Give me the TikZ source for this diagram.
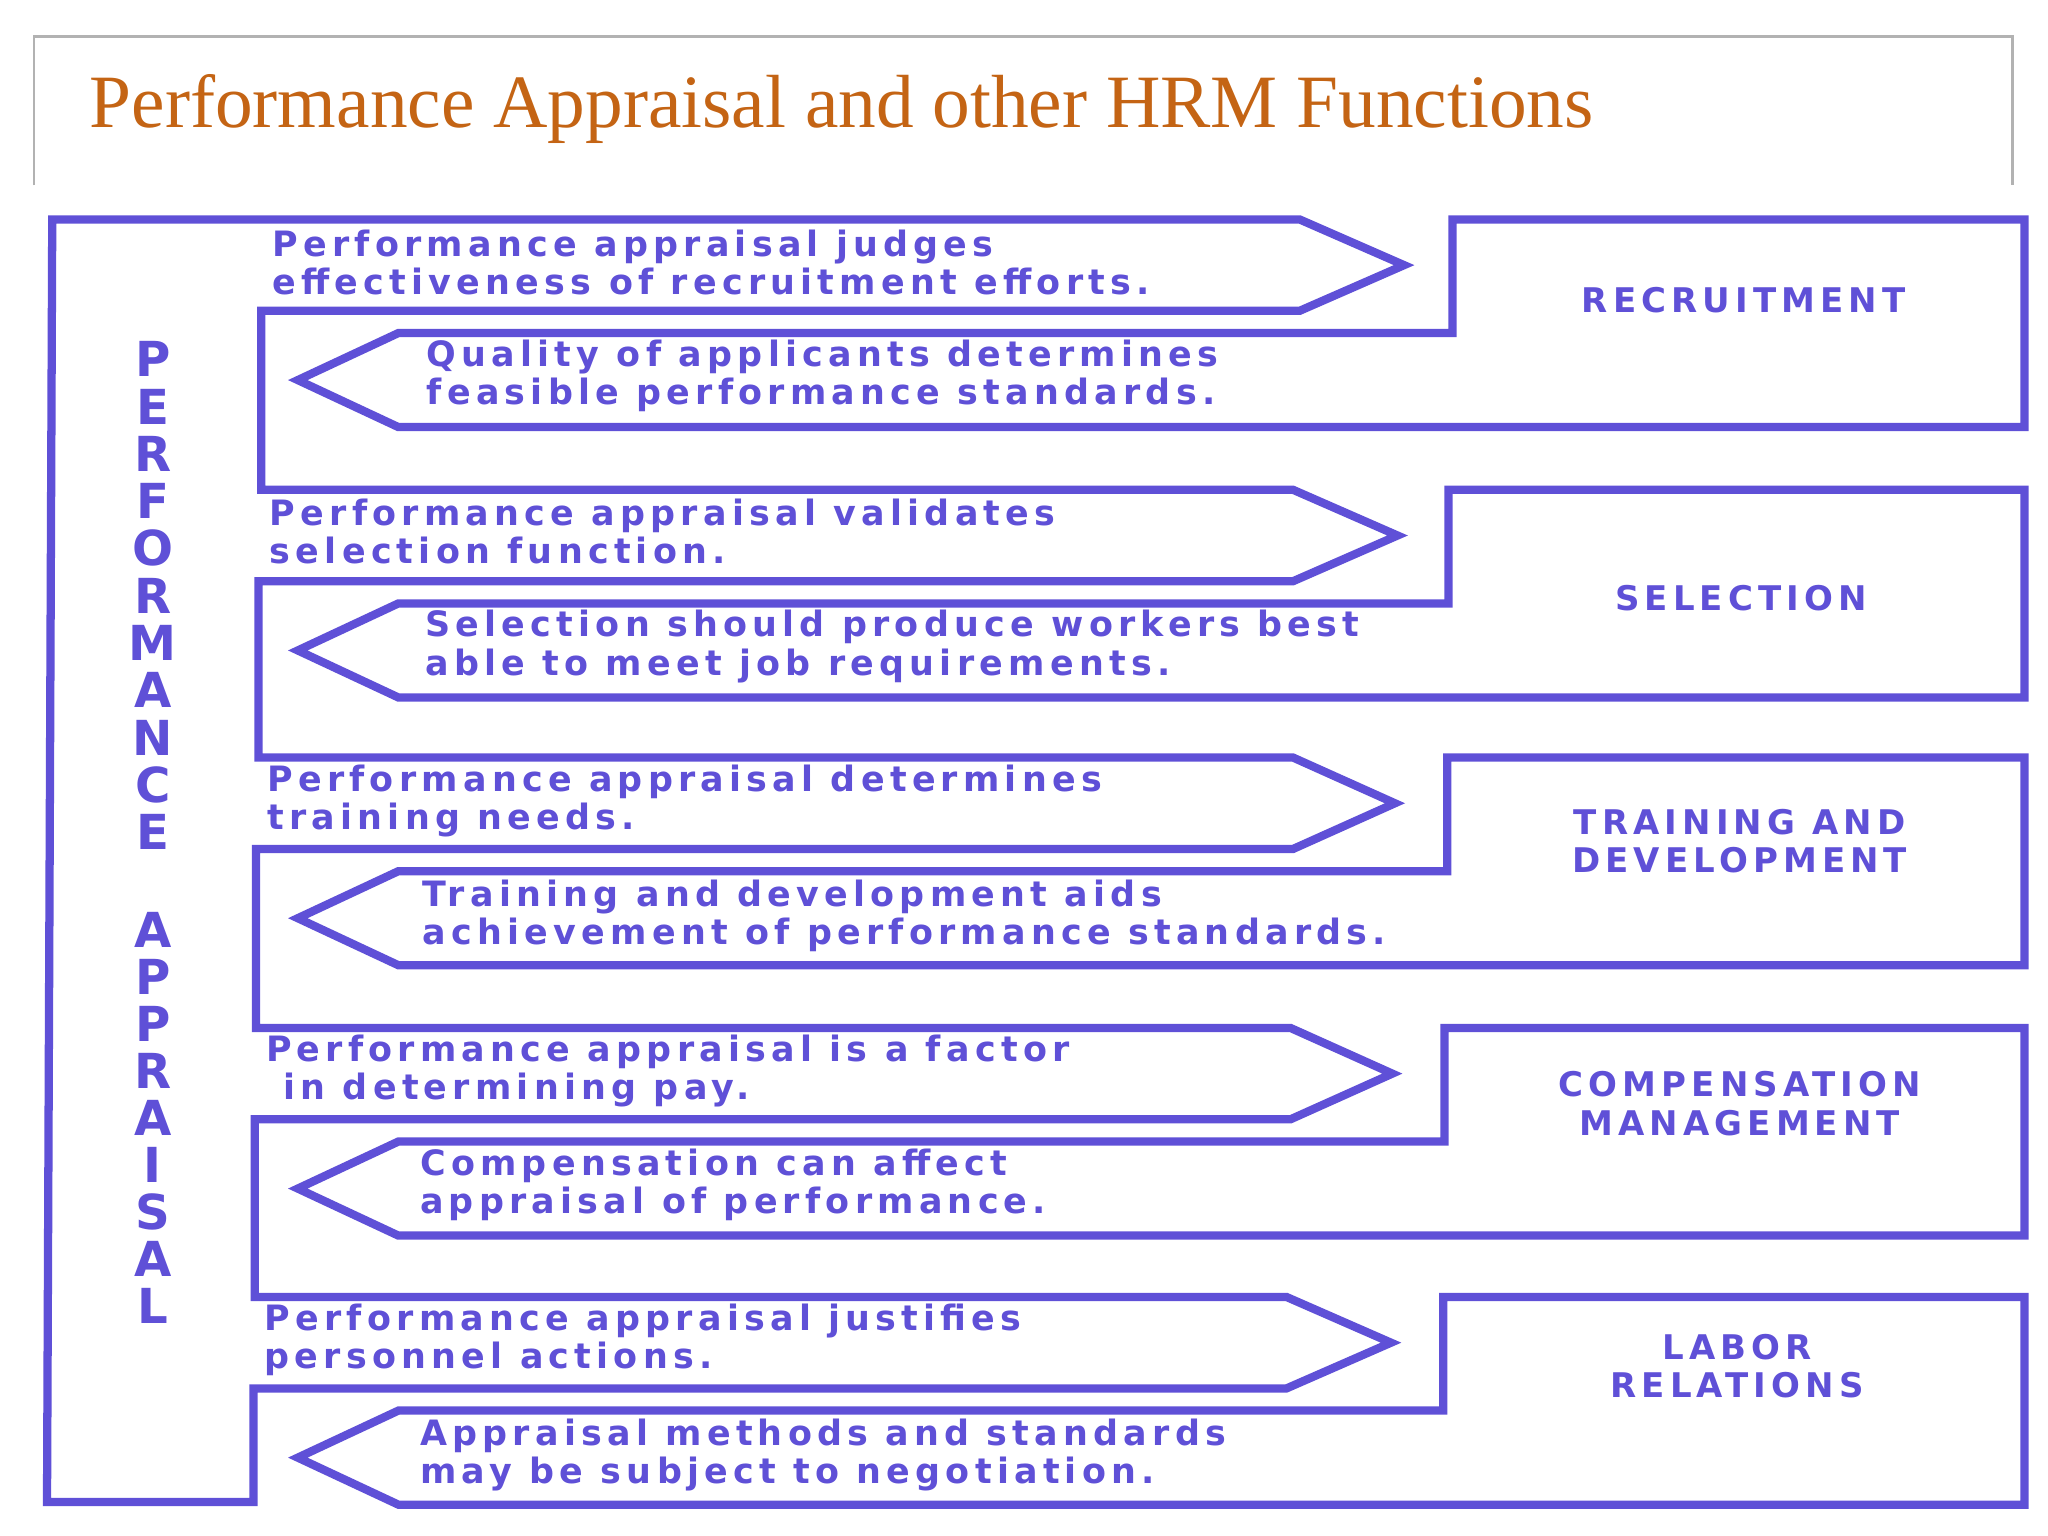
\documentclass[tikz,border=0pt]{standalone}
\usepackage{fontspec}
\setmainfont{Liberation Serif}
\newfontfamily\lab[LetterSpace=15]{DejaVu Sans Bold}
\definecolor{pu}{RGB}{95,80,215}
\definecolor{ttl}{RGB}{196,100,20}
\begin{document}
\begin{tikzpicture}[x=0.01cm,y=-0.01cm,
  ln/.style={draw=pu,line width=1.8pt,line join=miter},
  tx/.style={text=pu,font=\lab\fontsize{7.6}{8.3}\selectfont,anchor=west,align=left,inner sep=0},
  rt/.style={text=pu,font=\lab\fontsize{7.4}{8.3}\selectfont,align=center,inner sep=0},
  vl/.style={text=pu,font=\fontspec{DejaVu Sans Bold}\fontsize{10.5}{11}\selectfont,inner sep=0}]
\useasboundingbox (0,0) rectangle (1568,1176);
\draw[gray!60,line width=0.6pt] (26,142) -- (26,28) -- (1541,28) -- (1541,142);
\node[text=ttl,font=\fontsize{16.4}{19}\selectfont,anchor=base west,inner sep=0] (title) at (68,98) {Performance Appraisal and other HRM Functions};
% comb
\draw[ln] (40,168) -- (995,168) -- (1075,203) -- (995,238) -- (200,238) -- (200,375)
 -- (990,375) -- (1070,410) -- (990,445) -- (198,445) -- (198,580)
 -- (990,580) -- (1068,615) -- (990,650) -- (196,650) -- (196,787)
 -- (988,787) -- (1066,822) -- (988,857) -- (195,857) -- (195,993)
 -- (985,993) -- (1065,1028) -- (985,1063) -- (194,1063) -- (194,1150) -- (36,1150) -- cycle;
\foreach \t/\bx in {168/1112,375/1109,580/1108,787/1106,993/1105}{
  \draw[ln] (\bx,\t) -- (1550,\t) -- (1550,\t+159) -- (305,\t+159) -- (228,\t+123) -- (305,\t+87) -- (\bx,\t+87) -- cycle;
}
\node[tx] (r1) at (208,201) {Performance appraisal judges\\effectiveness of recruitment efforts.};
\node[tx] (l1) at (326,288) {Quality of applicants determines\\feasible performance standards.};
\node[tx] (r2) at (206,407) {Performance appraisal validates\\selection function.};
\node[tx] (l2) at (325,495) {Selection should produce workers best\\able to meet job requirements.};
\node[tx] (r3) at (204,613) {Performance appraisal determines\\training needs.};
\node[tx] (l3) at (323,701) {Training and development aids\\achievement of performance standards.};
\node[tx] (r4) at (203,820) {Performance appraisal is a factor\\\ in determining pay.};
\node[tx] (l4) at (321,907) {Compensation can affect\\appraisal of performance.};
\node[tx] (r5) at (202,1026) {Performance appraisal justifies\\personnel actions.};
\node[tx] (l5) at (321,1114) {Appraisal methods and standards\\may be subject to negotiation.};
\node[rt] (b1) at (1335,230) {RECRUITMENT};
\node[rt] (b2) at (1333,458) {SELECTION};
\node[rt] (b3) at (1332,644) {TRAINING AND\\DEVELOPMENT};
\node[rt] (b4) at (1332,845) {COMPENSATION\\MANAGEMENT};
\node[rt] (b5) at (1330,1046) {LABOR\\RELATIONS};
\foreach \c [count=\i from 0] in {P,E,R,F,O,R,M,A,N,C,E}
  \node[vl] (v\i) at (117,275+\i*36.2) {\c};
\foreach \c [count=\i from 0] in {A,P,P,R,A,I,S,A,L}
  \node[vl] (w\i) at (117,712+\i*36) {\c};
\end{tikzpicture}
\end{document}
